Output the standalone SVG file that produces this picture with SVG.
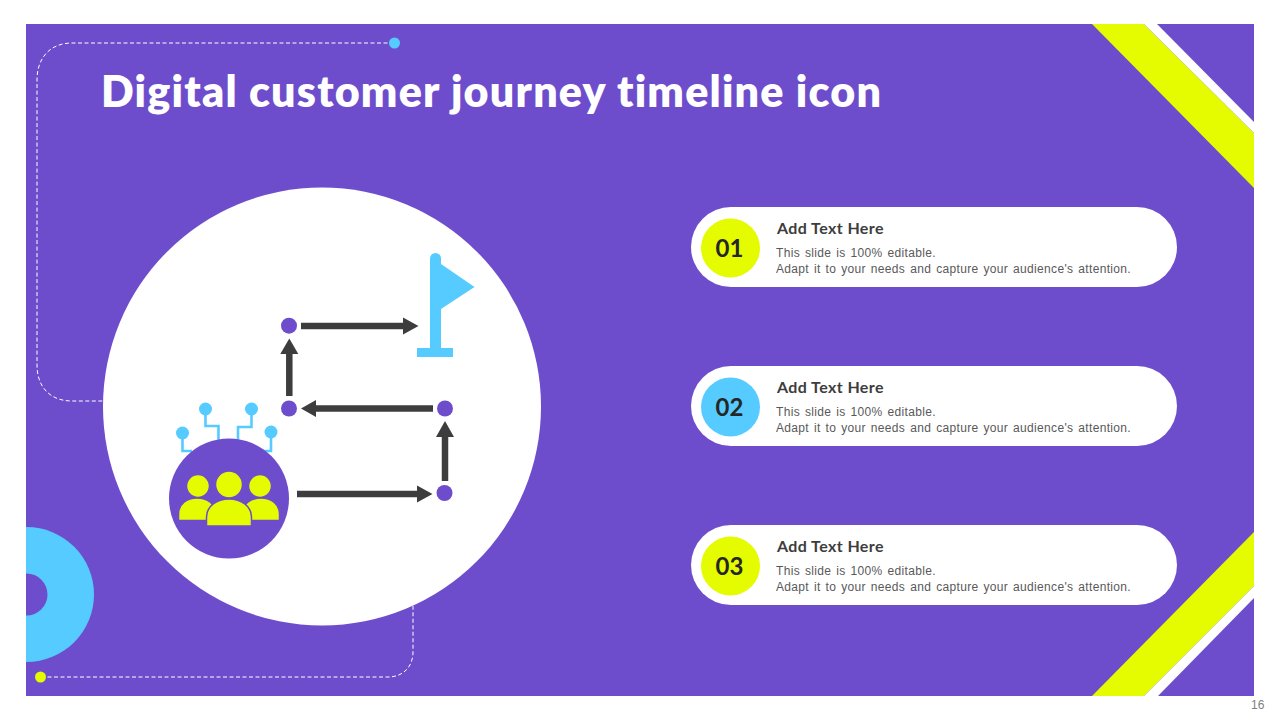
<svg xmlns="http://www.w3.org/2000/svg" width="1280" height="720" viewBox="0 0 1280 720">
<style>
.dash{fill:none;stroke:#fff;stroke-width:1;stroke-dasharray:4 2.5}
.conn{fill:none;stroke:#3d3d3d;stroke-width:6.5}
.head{fill:#3d3d3d}
.dot{fill:#6e4dcd}
.yel{fill:#e4fb00}
.blu{fill:#55cbff}
.wht{fill:#fff}
.circ{fill:none;stroke:#55cbff;stroke-width:2.6}
.pers{fill:#e4fb00;stroke:#6e4dcd;stroke-width:1.5}
.pill{fill:#fff}
.num{font:700 24px "Lato","Liberation Sans",sans-serif;fill:#262626;text-anchor:middle}
.hd{font:700 16px "Lato","Liberation Sans",sans-serif;fill:#3d3d3d;letter-spacing:.4px}
.bd{font:12px "Liberation Sans",Arial,sans-serif;fill:#595959;word-spacing:1.3px;letter-spacing:.33px}
</style>
<defs><clipPath id="panel"><rect x="26" y="24" width="1228" height="672"/></clipPath></defs>
<rect width="1280" height="720" fill="#fff"/>
<rect x="26" y="24" width="1228" height="672" fill="#6e4dcd"/>
<g id="stripes">
<polygon class="yel" points="1092,24 1144,24 1254,133 1254,188"/>
<polygon class="wht" points="1144,24 1157,24 1254,122 1254,133"/>
<polygon class="yel" points="1254,532 1254,586 1144,696 1092,696"/>
<polygon class="wht" points="1254,586 1254,598 1158,696 1144,696"/>
</g>
<g id="donut" clip-path="url(#panel)">
<circle class="blu" cx="26.500" cy="594.500" r="67.500"/>
<circle class="dot" cx="26.500" cy="594.500" r="21"/>
</g>
<g id="dashes">
<path class="dash" d="M394 43H72C50 43 37 58 37 80V365C37 387 50 401 72 401H104"/>
<path class="dash" d="M41 677H388C403 677 413 667 413 652V605"/>
<circle class="blu" cx="394.500" cy="43" r="5.500"/>
<circle class="yel" cx="40.500" cy="677" r="5.500"/>
</g>
<text x="101" y="107" font-family="Lato,'Liberation Sans',sans-serif" font-weight="800" font-size="43" fill="#fff" textLength="780" style="font-variant-ligatures:none">Digital customer journey timeline icon</text>
<g id="big-circle"><circle class="wht" cx="322" cy="406.500" r="219"/></g>
<g id="connectors">
<path class="conn" d="M297 494H419"/><polygon class="head" points="417,485.500 432.500,494 417,502.500"/>
<path class="conn" d="M445 481V435"/><polygon class="head" points="436,437 445,421 454,437"/>
<path class="conn" d="M433 408.500H315"/><polygon class="head" points="316,400 301,408.500 316,417"/>
<path class="conn" d="M289.300 396V352"/><polygon class="head" points="280.300,354 289.300,338.500 298.300,354"/>
<path class="conn" d="M301 326H405"/><polygon class="head" points="403,317.500 418.500,326 403,334.500"/>
</g>
<g id="node-start">
<path class="circ" d="M182.500 433V451H192M205.500 409V426H218.500V442M251.500 409V427H238V442M271 432V451H262"/>
<circle class="blu" cx="182.500" cy="433" r="6.500"/>
<circle class="blu" cx="205.500" cy="409" r="6.500"/>
<circle class="blu" cx="251.500" cy="409" r="6.500"/>
<circle class="blu" cx="271" cy="432" r="6.500"/>
<circle class="dot" cx="229" cy="498.500" r="60"/>
<circle class="pers" cx="198" cy="486" r="11.500"/>
<circle class="pers" cx="260" cy="486" r="11.500"/>
<path class="pers" d="M178.500 520.500V514C178.500 504 187 498 197 498C207 498 216 504 216 514V520.500Z"/>
<path class="pers" d="M279.500 520.500V514C279.500 504 271 498 261 498C251 498 242 504 242 514V520.500Z"/>
<circle class="pers" cx="229" cy="484.500" r="13.500"/>
<path class="pers" d="M206.500 526V517C206.500 506 217 499 229 499C241 499 251.500 506 251.500 517V526Z"/>
</g>
<g id="node-a"><circle class="dot" cx="444.500" cy="493" r="8"/></g>
<g id="node-b"><circle class="dot" cx="445" cy="408.500" r="8"/></g>
<g id="node-c"><circle class="dot" cx="289" cy="408.500" r="8"/></g>
<g id="node-d"><circle class="dot" cx="289" cy="325.700" r="8"/></g>
<g id="node-flag">
<path class="blu" d="M430 348V258.500a5.500 5.500 0 0 1 11 0V264L474.500 287L441 309V348Z"/>
<rect class="blu" x="417" y="348" width="36" height="9"/>
</g>
<g id="item-01">
<rect class="pill" x="691" y="207" width="486" height="80" rx="40"/>
<circle class="yel" cx="730.500" cy="248" r="29.500"/>
<text class="num" x="729.500" y="257">01</text>
<text class="hd" x="777" y="233.500">Add Text Here</text>
<text class="bd" x="776" y="257">This slide is 100% editable.</text>
<text class="bd" x="776" y="273">Adapt it to your needs and capture your audience's attention.</text>
</g>
<g id="item-02">
<rect class="pill" x="691" y="366" width="486" height="80" rx="40"/>
<circle class="blu" cx="730.500" cy="407" r="29.500"/>
<text class="num" x="729.500" y="416">02</text>
<text class="hd" x="777" y="392.500">Add Text Here</text>
<text class="bd" x="776" y="416">This slide is 100% editable.</text>
<text class="bd" x="776" y="432">Adapt it to your needs and capture your audience's attention.</text>
</g>
<g id="item-03">
<rect class="pill" x="691" y="525" width="486" height="80" rx="40"/>
<circle class="yel" cx="730.500" cy="566" r="29.500"/>
<text class="num" x="729.500" y="575">03</text>
<text class="hd" x="777" y="551.500">Add Text Here</text>
<text class="bd" x="776" y="575">This slide is 100% editable.</text>
<text class="bd" x="776" y="591">Adapt it to your needs and capture your audience's attention.</text>
</g>
<text x="1251" y="709" font-family="'Liberation Sans',Arial,sans-serif" font-size="12" fill="#7f7f7f">16</text>
</svg>
